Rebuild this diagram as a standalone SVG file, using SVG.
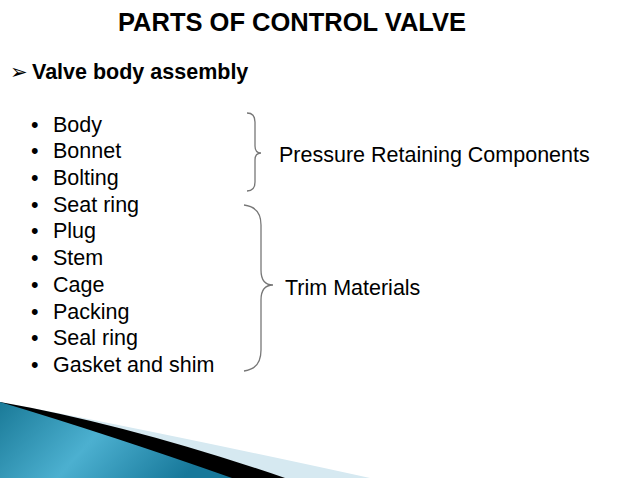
<svg xmlns="http://www.w3.org/2000/svg" width="638" height="478" viewBox="0 0 638 478">
<style>
text{font-family:"Liberation Sans",Arial,sans-serif;fill:#000}
.b{font-size:21.5px}
.br{fill:none;stroke:#777;stroke-width:1.3}
</style>
<defs>
<linearGradient id="g" x1="0" y1="0" x2="1" y2="0.3">
<stop offset="0" stop-color="#1a7a98"/><stop offset="0.5" stop-color="#4cb0d0"/><stop offset="1" stop-color="#17789a"/>
</linearGradient>
</defs>
<rect width="638" height="478" fill="#fff"/>
<path d="M0,402 Q150,430 370,478 L0,478Z" fill="#d6e9f1"/>
<path d="M0,402 Q130,425 285,478 L0,478Z" fill="#000"/>
<path d="M0,402 Q110,435 232,478 L0,478Z" fill="url(#g)"/>
<text x="292" y="31" font-size="25.5" font-weight="bold" text-anchor="middle">PARTS OF CONTROL VALVE</text>
<text x="10" y="79" font-size="21">➢</text>
<text x="32" y="79" font-size="21.5" font-weight="bold">Valve body assembly</text>
<g id="list" class="b">
<text x="31" y="132">•</text><text x="53" y="132">Body</text>
<text x="31" y="158">•</text><text x="53" y="158">Bonnet</text>
<text x="31" y="185">•</text><text x="53" y="185">Bolting</text>
<text x="31" y="212">•</text><text x="53" y="212">Seat ring</text>
<text x="31" y="238">•</text><text x="53" y="238">Plug</text>
<text x="31" y="265">•</text><text x="53" y="265">Stem</text>
<text x="31" y="292">•</text><text x="53" y="292">Cage</text>
<text x="31" y="319">•</text><text x="53" y="319">Packing</text>
<text x="31" y="345">•</text><text x="53" y="345">Seal ring</text>
<text x="31" y="372">•</text><text x="53" y="372">Gasket and shim</text>
</g>
<g id="connectors">
<path class="br" d="M247,113 Q255,113 255,122 L255,146 Q255,153 261,153 Q255,153 255,160 L255,182 Q255,191 247,191"/>
<path class="br" d="M244,205 Q261,207 261,225 L261,270 Q261,285 273,285 Q261,285 261,300 L261,350 Q261,369 244,371"/>
</g>
<text x="279" y="162" font-size="21.5">Pressure Retaining Components</text>
<text x="285" y="295" font-size="21.5">Trim Materials</text>
</svg>
